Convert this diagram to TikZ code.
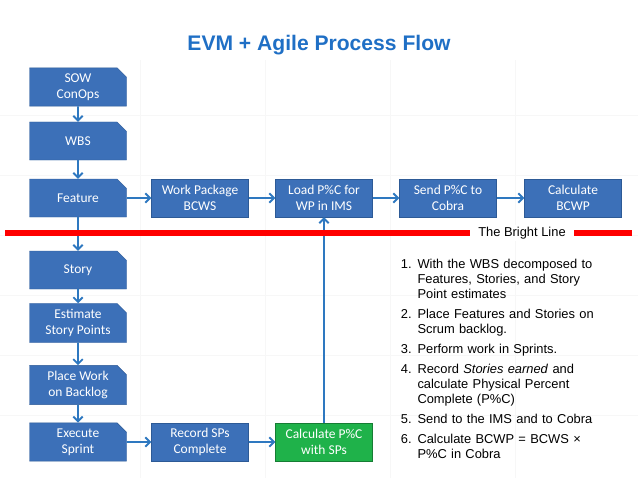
\documentclass[tikz,border=0pt]{standalone}
\usepackage{fontspec}
\setmainfont{Liberation Sans}
\newfontfamily\boxfont{Carlito}
\usetikzlibrary{arrows.meta,shapes.misc}
\definecolor{boxblue}{HTML}{3C70B8}
\definecolor{boxedge}{HTML}{2D5A96}
\definecolor{grn}{HTML}{1FB24A}
\definecolor{arr}{HTML}{2E78C0}
\definecolor{ttl}{HTML}{1F6FC5}
\tikzset{
 pbox/.style={draw=boxedge,fill=boxblue,text=white,minimum width=97*0.03cm,minimum height=38*0.03cm,align=center,font=\boxfont\fontsize{11.5}{13.5}\selectfont,inner sep=1pt},
 cbox/.style={pbox,chamfered rectangle,chamfered rectangle corners=north east,chamfered rectangle xsep=4pt,chamfered rectangle ysep=4pt},
 gbox/.style={pbox,fill=grn,draw=grn!70!black},
 flow/.style={draw=arr,line width=1.6pt,-{Straight Barb[length=4pt,width=8pt]}}
}
\begin{document}
\begin{tikzpicture}[x=0.03cm,y=-0.03cm]
\useasboundingbox (0,0) rectangle (638,478);
\foreach \xx in {140,265,390,515} \draw[gray!6] (\xx,60) -- (\xx,478);
\foreach \yy in {115,175,235,295,355,415} \draw[gray!6] (0,\yy) -- (638,\yy);
\node[font=\bfseries\fontsize{18}{21}\selectfont,text=ttl] (title) at (319,45) {EVM + Agile Process Flow};
\node[cbox] (sow) at (78,87) {SOW\\ConOps};
\node[cbox] (wbs) at (78,141) {WBS};
\node[cbox] (feat) at (78,198) {Feature};
\node[cbox] (story) at (78,270) {Story};
\node[cbox] (est) at (78,323) {Estimate\\Story Points};
\node[cbox] (place) at (78,385) {Place Work\\on Backlog};
\node[cbox] (exec) at (78,442) {Execute\\Sprint};
\node[pbox] (wp) at (200,198) {Work Package\\BCWS};
\node[pbox] (load) at (324,198) {Load P\%C for\\WP in IMS};
\node[pbox] (send) at (448,198) {Send P\%C to\\Cobra};
\node[pbox] (bcwp) at (573,198) {Calculate\\BCWP};
\node[pbox] (rec) at (200,442) {Record SPs\\Complete};
\node[gbox] (calc) at (324,442) {Calculate P\%C\\with SPs};
\draw[flow] (sow) -- (wbs);
\draw[flow] (wbs) -- (feat);
\draw[flow] (feat) -- (story);
\draw[flow] (story) -- (est);
\draw[flow] (est) -- (place);
\draw[flow] (place) -- (exec);
\draw[flow] (feat) -- (wp);
\draw[flow] (wp) -- (load);
\draw[flow] (load) -- (send);
\draw[flow] (send) -- (bcwp);
\draw[flow] (exec) -- (rec);
\draw[flow] (rec) -- (calc);
\draw[flow] (calc) -- (load);
\coordinate (rl) at (5,233);
\coordinate (rr) at (632,233);
\draw[red,line width=4.5pt] (rl) -- (rr);
\node[fill=white,font=\fontsize{11}{13}\selectfont,inner sep=2pt,minimum width=104*0.03cm] (bl) at (522,233) {The Bright Line};
\node[anchor=north west,text width=222*0.03cm,font=\fontsize{11}{12.9}\selectfont,inner sep=0pt] (list) at (388,244) {%
\begin{enumerate}\setlength{\itemsep}{0pt}\setlength{\parsep}{0pt}\setlength{\topsep}{0pt}\setlength{\partopsep}{0pt}\setlength{\leftmargini}{20pt}\setlength{\labelsep}{5pt}
\item With the WBS decomposed to Features, Stories, and Story Point estimates
\item Place Features and Stories on Scrum backlog.
\item Perform work in Sprints.
\item Record \emph{Stories earned} and calculate Physical Percent Complete (P\%C)
\item Send to the IMS and to Cobra
\item Calculate BCWP = BCWS × P\%C in Cobra
\end{enumerate}};
\end{tikzpicture}
\end{document}
